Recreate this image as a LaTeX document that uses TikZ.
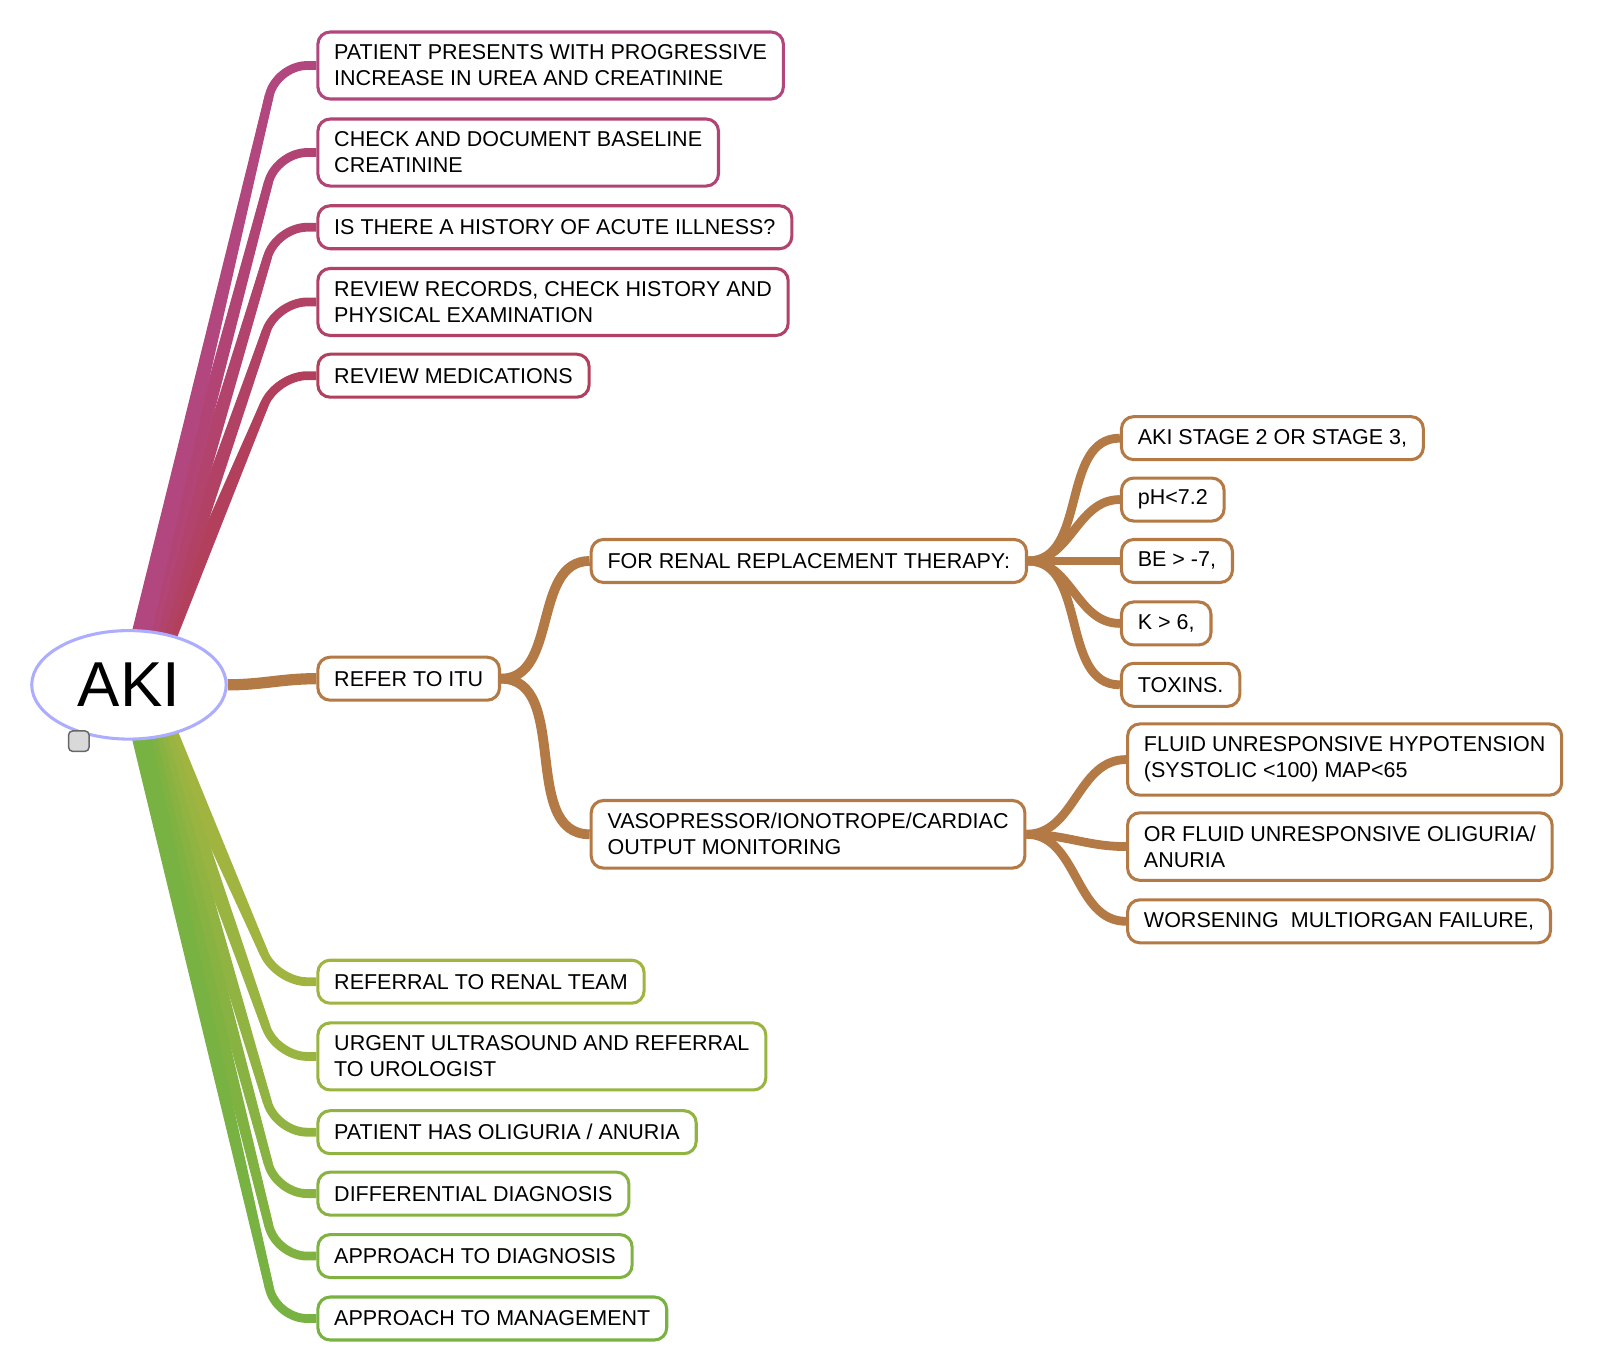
\documentclass[tikz,border=0pt]{standalone}
\usepackage{fontspec}
\setmainfont{Liberation Sans}
\usetikzlibrary{calc,shapes.geometric}

\pgfdeclarelayer{background}
\pgfsetlayers{background,main}

\definecolor{pinkA}{HTML}{B2467E}
\definecolor{pinkB}{HTML}{B2405C}
\definecolor{greenA}{HTML}{A1B440}
\definecolor{greenB}{HTML}{78B243}
\definecolor{itubrown}{HTML}{B47A45}
\definecolor{akiring}{HTML}{ADADFF}

\colorlet{pk1}{pinkA}
\colorlet{pk2}{pinkA!75!pinkB}
\colorlet{pk3}{pinkA!50!pinkB}
\colorlet{pk4}{pinkA!25!pinkB}
\colorlet{pk5}{pinkB}
\colorlet{gr1}{greenA}
\colorlet{gr2}{greenA!80!greenB}
\colorlet{gr3}{greenA!60!greenB}
\colorlet{gr4}{greenA!40!greenB}
\colorlet{gr5}{greenA!20!greenB}
\colorlet{gr6}{greenB}

\tikzset{
  topic/.style={draw=#1, rounded corners=6pt, line width=1.5pt, fill=white,
    align=left, anchor=west, inner xsep=8pt, inner ysep=5pt,
    minimum height=21pt, font=\fontsize{10.5}{12.7}\selectfont},
  twoline/.style={inner ysep=6.3pt},
  link/.style={draw=#1, line width=4.3pt},
}

% tapered branch: colour, root, elbow, box
\newcommand{\limb}[4]{%
  \coordinate (kn) at (#3 |- #4.west);
  \coordinate (sk) at ($(kn)!15pt!(#2)$);
  \fill[#1] ($(#2)!4.8pt!90:(kn)$) -- ($(sk)!2.15pt!-90:(#2)$)
    -- ($(sk)!2.15pt!90:(#2)$) -- ($(#2)!4.8pt!-90:(kn)$) -- cycle;
  \draw[link=#1, rounded corners=15pt] (#2) -- (kn) -- (#4.west);
}

\begin{document}
\begin{tikzpicture}[x=0.5pt, y=-0.5pt]
\useasboundingbox (0,0) rectangle (1563,1338);

% centre
\node[ellipse, draw=akiring, line width=1.5pt, fill=white, inner sep=0pt,
  minimum width=95pt, minimum height=53pt, font=\fontsize{31}{31}\selectfont] (aki) at (126,669) {AKI};
\node[draw=black!60, fill=black!15, rounded corners=2pt, line width=0.7pt,
  minimum size=10pt, inner sep=0pt] (fold) at (77,724) {};

% upper branch
\node[topic=pk1, twoline] (present) at (309,64) {PATIENT PRESENTS WITH PROGRESSIVE\\INCREASE IN UREA AND CREATININE};
\node[topic=pk2, twoline] (baseline) at (309,149) {CHECK AND DOCUMENT BASELINE\\CREATININE};
\node[topic=pk3] (history) at (309,222) {IS THERE A HISTORY OF ACUTE ILLNESS?};
\node[topic=pk4, twoline] (records) at (309,295) {REVIEW RECORDS, CHECK HISTORY AND\\PHYSICAL EXAMINATION};
\node[topic=pk5] (meds) at (309,367) {REVIEW MEDICATIONS};

% ITU branch
\node[topic=itubrown] (itu) at (309,663) {REFER TO ITU};
\node[topic=itubrown] (rrt) at (576,548) {FOR RENAL REPLACEMENT THERAPY:};
\node[topic=itubrown, twoline] (vaso) at (576,815) {VASOPRESSOR/IONOTROPE/CARDIAC\\OUTPUT MONITORING};

\node[topic=itubrown] (stage) at (1094,428) {AKI STAGE 2 OR STAGE 3,};
\node[topic=itubrown] (ph) at (1094,488) {pH<7.2};
\node[topic=itubrown] (be) at (1094,548) {BE > -7,};
\node[topic=itubrown] (kal) at (1094,609) {K > 6,};
\node[topic=itubrown] (tox) at (1094,669) {TOXINS.};

\node[topic=itubrown, twoline] (hypo) at (1100,742) {FLUID UNRESPONSIVE HYPOTENSION\\(SYSTOLIC <100) MAP<65};
\node[topic=itubrown, twoline] (olig) at (1100,827) {OR FLUID UNRESPONSIVE OLIGURIA/\\ANURIA};
\node[topic=itubrown] (mof) at (1100,900) {WORSENING\ \ MULTIORGAN FAILURE,};

% lower branch
\node[topic=gr1] (renal) at (309,959) {REFERRAL TO RENAL TEAM};
\node[topic=gr2, twoline] (urgent) at (309,1032) {URGENT ULTRASOUND AND REFERRAL\\TO UROLOGIST};
\node[topic=gr3] (oligo) at (309,1106) {PATIENT HAS OLIGURIA / ANURIA};
\node[topic=gr4] (diff) at (309,1166) {DIFFERENTIAL DIAGNOSIS};
\node[topic=gr5] (appdx) at (309,1227) {APPROACH TO DIAGNOSIS};
\node[topic=gr6] (appmx) at (309,1288) {APPROACH TO MANAGEMENT};

\coordinate (elbow) at (270,0);
\coordinate (up1) at (135,632);
\coordinate (up2) at (141,632);
\coordinate (up3) at (147,632);
\coordinate (up4) at (153,632);
\coordinate (up5) at (159,632);
\coordinate (dn1) at (160,706);
\coordinate (dn2) at (155,706);
\coordinate (dn3) at (150,706);
\coordinate (dn4) at (145,706);
\coordinate (dn5) at (140,706);
\coordinate (dn6) at (135,706);

\begin{pgfonlayer}{background}
\limb{pk5}{up5}{elbow}{meds}
\limb{pk4}{up4}{elbow}{records}
\limb{pk3}{up3}{elbow}{history}
\limb{pk2}{up2}{elbow}{baseline}
\limb{pk1}{up1}{elbow}{present}

\limb{gr1}{dn1}{elbow}{renal}
\limb{gr2}{dn2}{elbow}{urgent}
\limb{gr3}{dn3}{elbow}{oligo}
\limb{gr4}{dn4}{elbow}{diff}
\limb{gr5}{dn5}{elbow}{appdx}
\limb{gr6}{dn6}{elbow}{appmx}

\draw[link=itubrown, line width=5.5pt] (aki.east) to[out=0,in=180] (itu.west);
\draw[link=itubrown, line width=4.8pt] (itu.east) to[out=0,in=180] (rrt.west);
\draw[link=itubrown, line width=4.8pt] (itu.east) to[out=0,in=180] (vaso.west);

\draw[link=itubrown] (rrt.east) to[out=0,in=180] (stage.west);
\draw[link=itubrown] (rrt.east) to[out=0,in=180] (ph.west);
\draw[link=itubrown] (rrt.east) to[out=0,in=180] (be.west);
\draw[link=itubrown] (rrt.east) to[out=0,in=180] (kal.west);
\draw[link=itubrown] (rrt.east) to[out=0,in=180] (tox.west);

\draw[link=itubrown] (vaso.east) to[out=0,in=180] (hypo.west);
\draw[link=itubrown] (vaso.east) to[out=0,in=180] (olig.west);
\draw[link=itubrown] (vaso.east) to[out=0,in=180] (mof.west);
\end{pgfonlayer}

\end{tikzpicture}
\end{document}
